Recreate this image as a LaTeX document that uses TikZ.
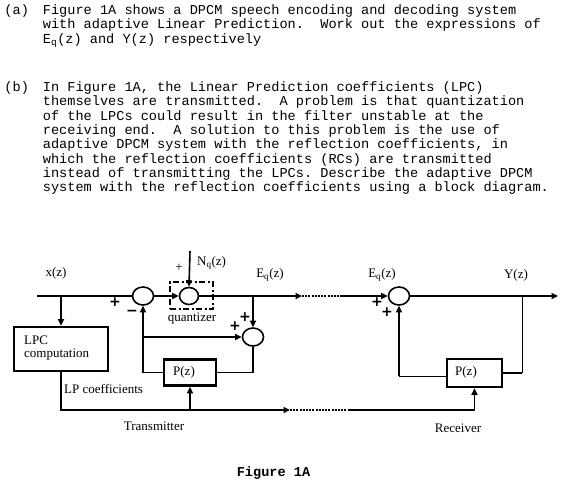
\documentclass[tikz,border=0pt]{standalone}
\usepackage{fontspec}
\setmainfont{Liberation Serif}
\setmonofont{Liberation Mono}
\newfontfamily\signfont{DejaVu Sans}
\usetikzlibrary{shapes.geometric,arrows.meta}
\frenchspacing
\begin{document}
\begin{tikzpicture}[x=1pt,y=-1pt,
  mono/.style={font=\fontsize{13.6}{15}\selectfont\ttfamily, anchor=base west, inner sep=0},
  lbl/.style={font=\fontsize{13}{14}\selectfont, inner sep=0},
  sumnode/.style={ellipse, draw, line width=1.6pt, minimum width=21pt, minimum height=18pt, inner sep=0},
  blockbox/.style={draw, line width=2.6pt, inner sep=0},
  sig/.style={line width=1.9pt},
  thinsig/.style={line width=1pt},
  arr/.style={-{Triangle[length=6.5pt,width=6pt]}},
  dotseg/.style={line width=2.4pt, dash pattern=on 2pt off 1.2pt},
  pm/.style={font=\fontsize{14}{14}\selectfont\signfont\bfseries, inner sep=0}
]
\useasboundingbox (0,0) rectangle (564,483);
\fill[white] (0,0) rectangle (564,483);

% ---------- question text ----------
\node[mono] (la) at (4.3,14) {(a)};
\node[mono] (a1) at (42.7,14) {Figure 1A shows a DPCM speech encoding and decoding system};
\node[mono] (a2) at (42.7,28.6) {with adaptive Linear Prediction.~ Work out the expressions of};
\node[mono] (a3) at (42.7,43.3) {E\textsubscript{q}(z) and Y(z) respectively};

\node[mono] (lb) at (4.3,91.5) {(b)};
\node[mono] (b1) at (42.7,91.5) {In Figure 1A, the Linear Prediction coefficients (LPC)};
\node[mono] (b2) at (42.7,105.8) {themselves are transmitted.~ A problem is that quantization};
\node[mono] (b3) at (42.7,120.1) {of the LPCs could result in the filter unstable at the};
\node[mono] (b4) at (42.7,134.4) {receiving end.~ A solution to this problem is the use of};
\node[mono] (b5) at (42.7,148.7) {adaptive DPCM system with the reflection coefficients, in};
\node[mono] (b6) at (42.7,163.0) {which the reflection coefficients (RCs) are transmitted};
\node[mono] (b7) at (42.7,177.3) {instead of transmitting the LPCs. Describe the adaptive DPCM};
\node[mono] (b8) at (42.7,191.6) {system with the reflection coefficients using a block diagram.};

% ---------- diagram nodes ----------
\node[sumnode] (s1) at (143,296) {};
\node[sumnode, minimum width=19pt, minimum height=17pt] (q) at (189,296) {};
\node[draw, line width=2.3pt, dash pattern=on 6pt off 2.5pt on 2pt off 2.5pt,
      minimum width=43pt, minimum height=27pt, inner sep=0] (qbox) at (191.5,295.5) {};
\node[sumnode] (s3) at (253,337) {};
\node[sumnode] (s4) at (399,296) {};

\node[blockbox, minimum width=94pt, minimum height=44pt] (lpc) at (61,349) {};
\node[blockbox, minimum width=52pt, minimum height=26pt] (p1) at (190,372.5) {};
\node[blockbox, minimum width=55pt, minimum height=28pt] (p2) at (474.5,373) {};

% ---------- coordinates ----------
\coordinate (xin) at (37,296);
\coordinate (br1) at (61,296);
\coordinate (nqtop) at (190,251);
\coordinate (t1) at (302,296);
\coordinate (t2) at (340,296);
\coordinate (eqbr) at (253,296);
\coordinate (yout) at (558,296);
\coordinate (ybr) at (522,296);
\coordinate (t3) at (290,410);
\coordinate (t4) at (350,410);

% ---------- connectors ----------
\draw[sig] (xin) -- (s1.west);
\draw[sig,arr] (br1) -- (lpc.north);
\draw[sig,arr] (s1.east) -- (q.west);
\draw[line width=1.6pt,arr] (nqtop) -- (q.north);
\draw[sig,arr] (q.east) -- (t1);
\draw[dotseg] (t1) -- (t2);
\draw[sig,arr] (t2) -- (s4.west);
\draw[sig,arr] (eqbr) -- (s3.north);
\draw[sig,arr] (p1.west) -| (s1.south);
\draw[sig,arr] (s1.south |- s3.west) -- (s3.west);
\draw[sig] (p1.east) -| (s3.south);
\draw[sig,arr] (lpc.south) |- (t3);
\draw[dotseg] (t3) -- (t4);
\draw[sig,arr] (t4) -| (p2.south);
\draw[sig,arr] (p1.south |- t3) -- (p1.south);
\draw[sig,arr] (s4.east) -- (yout);
\draw[sig] (p2.east) -- (p2.east -| ybr);
\draw[thinsig] (p2.east -| ybr) -- (ybr);
\coordinate (rl) at (s4.south |- 0,376);
\draw[thinsig] (p2.west |- rl) -- (rl);
\draw[sig,arr] (rl) -- (s4.south);

% ---------- labels ----------
\node[lbl] (lx) at (56,273) {x(z)};
\node[lbl, anchor=west] (lnq) at (197,263) {N\textsubscript{q}(z)};
\node[lbl] (lplus) at (179,268) {+};
\node[lbl] (leq1) at (270,275) {E\textsubscript{q}(z)};
\node[lbl] (leq2) at (382,275) {E\textsubscript{q}(z)};
\node[lbl] (ly) at (516,275) {Y(z)};
\node[lbl] (lq) at (192,318.5) {quantizer};
\node[lbl, anchor=west] (llpc1) at (24,340.5) {LPC};
\node[lbl, anchor=west] (llpc2) at (24,355) {computation};
\node[lbl] (lp1) at (184,372) {P(z)};
\node[lbl] (lp2) at (466,372) {P(z)};
\node[lbl, anchor=west] (llp) at (64,389) {LP coefficients};
\node[lbl] (ltx) at (154,426) {Transmitter};
\node[lbl] (lrx) at (458,428) {Receiver};

% signs
\node[pm] (ps1) at (115,302) {+};
\node[pm] (ms1) at (132,312.5) {−};
\node[pm] (ps3a) at (245,317) {+};
\node[pm] (ps3b) at (235,326) {+};
\node[pm] (ps4a) at (377,302) {+};
\node[pm] (ps4b) at (387,312) {+};

\node[mono, anchor=base, font=\fontsize{13.6}{15}\selectfont\ttfamily\bfseries] (fig) at (273.5,476) {Figure 1A};
\end{tikzpicture}
\end{document}
